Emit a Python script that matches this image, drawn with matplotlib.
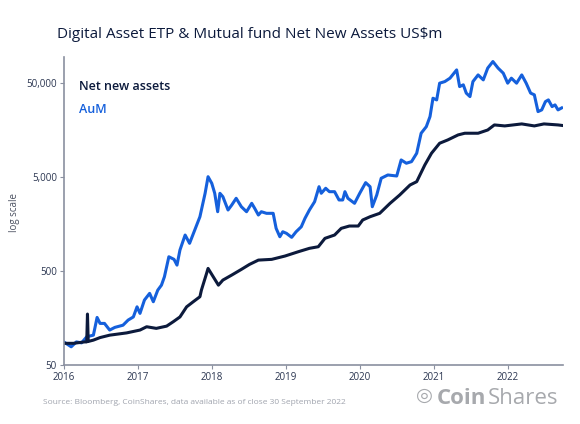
import matplotlib
matplotlib.use('Agg')
import matplotlib.pyplot as plt
from matplotlib.ticker import FixedLocator, NullLocator

# AuM, US$m (decimal years)
aum_t = [2016.00, 2016.10, 2016.17, 2016.24, 2016.31, 2016.40, 2016.45, 2016.49, 2016.55, 2016.62,
         2016.69, 2016.80, 2016.87, 2016.94, 2016.99, 2017.03, 2017.09, 2017.16, 2017.21, 2017.27,
         2017.32, 2017.36, 2017.42, 2017.49, 2017.53, 2017.57, 2017.64, 2017.70, 2017.77, 2017.84,
         2017.89, 2017.91, 2017.95, 2018.00, 2018.04, 2018.08, 2018.11, 2018.15, 2018.22, 2018.27,
         2018.33, 2018.40, 2018.47, 2018.54, 2018.58, 2018.63, 2018.67, 2018.74, 2018.83, 2018.87,
         2018.92, 2018.96, 2019.01, 2019.08, 2019.14, 2019.21, 2019.26, 2019.32, 2019.39, 2019.45,
         2019.48, 2019.54, 2019.59, 2019.66, 2019.72, 2019.77, 2019.80, 2019.84, 2019.93, 2020.00,
         2020.08, 2020.14, 2020.17, 2020.23, 2020.29, 2020.38, 2020.50, 2020.56, 2020.63, 2020.70,
         2020.77, 2020.83, 2020.90, 2020.95, 2020.99, 2021.04, 2021.08, 2021.15, 2021.22, 2021.31,
         2021.35, 2021.40, 2021.44, 2021.49, 2021.53, 2021.60, 2021.67, 2021.73, 2021.80, 2021.87,
         2021.94, 2022.00, 2022.05, 2022.12, 2022.19, 2022.25, 2022.31, 2022.36, 2022.41, 2022.46,
         2022.51, 2022.55, 2022.60, 2022.64, 2022.68, 2022.73]
aum = [89, 79, 89, 87, 101, 105, 162, 140, 140, 119,
       127, 134, 152, 164, 210, 179, 248, 292, 238, 316,
       357, 438, 715, 671, 583, 843, 1217, 993, 1375, 1905,
       2870, 3380, 5070, 4315, 3380, 2153, 3380, 3110, 2245, 2536,
       2990, 2432, 2153, 2645, 2340, 1986, 2153, 2070, 2070, 1433,
       1167, 1319, 1268, 1150, 1319, 1490, 1832, 2245, 2750, 3970,
       3380, 3820, 3515, 3515, 2870, 2870, 3515, 2990, 2645, 3380,
       4385, 3970, 2432, 3240, 4880, 5290, 5160, 7640, 7050, 7330,
       9000, 14690, 17260, 22080, 34600, 33200, 50000, 52000, 56500, 69200,
       46000, 48000, 39200, 36000, 52000, 61200, 54200, 72300, 84900, 72300,
       63900, 50000, 56500, 50000, 61200, 50000, 39200, 37600, 24950, 26000,
       31850, 33200, 28200, 29400, 26000, 27300]

# Cumulative net new assets, US$m
nna_t = [2016.00, 2016.13, 2016.28, 2016.31, 2016.32, 2016.33, 2016.40, 2016.49, 2016.62, 2016.85,
         2017.03, 2017.12, 2017.25, 2017.39, 2017.48, 2017.57, 2017.66, 2017.75, 2017.84, 2017.86,
         2017.93, 2017.95, 2018.02, 2018.09, 2018.15, 2018.27, 2018.40, 2018.51, 2018.63, 2018.81,
         2018.99, 2019.17, 2019.32, 2019.44, 2019.53, 2019.66, 2019.75, 2019.86, 2019.98, 2020.04,
         2020.14, 2020.27, 2020.41, 2020.54, 2020.68, 2020.77, 2020.88, 2020.97, 2021.08, 2021.19,
         2021.33, 2021.42, 2021.60, 2021.73, 2021.82, 2021.96, 2022.19, 2022.36, 2022.49, 2022.68,
         2022.73]
nna = [86, 86, 89, 89, 176, 90, 93, 99, 105, 111,
       119, 129, 124, 131, 146, 164, 210, 238, 269, 316,
       476, 538, 438, 357, 404, 457, 525, 593, 659, 671,
       728, 809, 879, 914, 1122, 1217, 1433, 1517, 1517, 1758,
       1905, 2070, 2645, 3240, 4140, 4490, 6760, 9000, 11500, 12470,
       14100, 14690, 14690, 15900, 18000, 17570, 18450, 17570, 18450, 18000,
       17800]

years = [2016, 2017, 2018, 2019, 2020, 2021, 2022]
yticks = [50, 500, 5000, 50000]

navy = '#0c1a3c'
blue = '#1560dc'
grey = '#8a90a0'
logo = '#a7a9ad'

plt.rcParams['font.family'] = ['Open Sans', 'DejaVu Sans']

fig = plt.figure(figsize=(5.8, 4.24), dpi=100)
ax = fig.add_axes([0.110, 0.138, 0.861, 0.728])

ax.plot(aum_t, aum, color=blue, lw=2.2, solid_joinstyle='round')
ax.plot(nna_t, nna, color=navy, lw=2.2, solid_joinstyle='round')

ax.set_yscale('log')
ax.set_ylim(50, 95300)
ax.set_xlim(2016, 2022.75)
ax.yaxis.set_major_locator(FixedLocator(yticks))
ax.yaxis.set_minor_locator(NullLocator())
ax.set_yticklabels([f'{v:,}' for v in yticks])
ax.set_xticks(years)
ax.set_xticklabels([str(y) for y in years])

for s in ['top', 'right']:
    ax.spines[s].set_visible(False)
for s in ['left', 'bottom']:
    ax.spines[s].set_color(grey)
    ax.spines[s].set_linewidth(1.2)
ax.tick_params(axis='both', colors=grey, length=3, width=0.8, labelsize=7,
               labelcolor='#2a3550', pad=2)

fig.text(14 / 580, 1 - 212 / 424, 'log scale', rotation=90, fontsize=7,
         color='#4a5060', va='center', ha='center')

ax.text(0.03, 0.905, 'Net new assets', transform=ax.transAxes, color=navy,
        fontsize=9, fontweight='semibold', va='center')
ax.text(0.03, 0.83, 'AuM', transform=ax.transAxes, color=blue,
        fontsize=9, fontweight='semibold', va='center')

fig.text(57 / 580, 1 - 35 / 424, 'Digital Asset ETP & Mutual fund Net New Assets US$m',
         fontsize=11, color=navy, va='center', ha='left')
fig.text(43 / 580, 1 - 402 / 424,
         'Source: Bloomberg, CoinShares, data available as of close 30 September 2022',
         fontsize=6, color='#a0a4ae', va='center', ha='left')

# logo: "Coin" bold + "Shares" regular, placed side by side
coin = fig.text(437 / 580, 1 - 399 / 424, 'Coin', fontsize=16, fontweight='bold',
                color=logo, va='center', ha='left')
fig.canvas.draw()
bb = coin.get_window_extent().transformed(fig.transFigure.inverted())
fig.text(bb.x1 + 1 / 580, 1 - 399 / 424, 'Shares', fontsize=16, color=logo,
         va='center', ha='left')
fig.text(424 / 580, 1 - 396 / 424, '\u25CE', fontsize=14, color=logo,
         va='center', ha='center')

fig.savefig('out.png', dpi=100)
